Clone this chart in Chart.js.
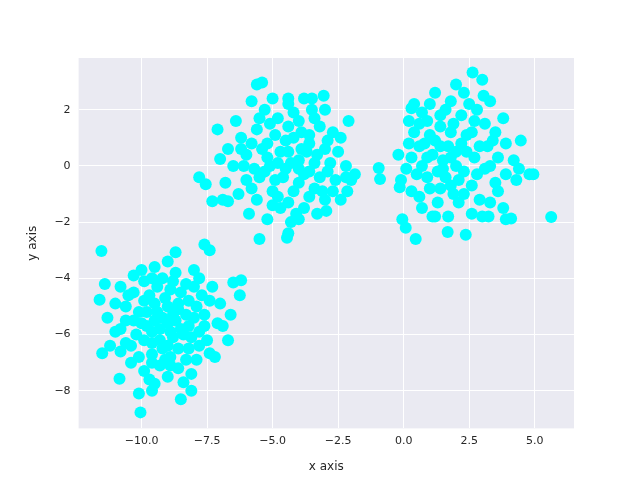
<!DOCTYPE html>
<html><head><meta charset="utf-8">
<script src="https://cdn.jsdelivr.net/npm/chart.js@4"></script>
<style>html,body{margin:0;padding:0;background:#fff}#w{width:639px;height:478px}</style>
</head><body><div id="w"><canvas id="c"></canvas></div>
<script>
const xTicks=[-10,-7.5,-5,-2.5,0,2.5,5];
const yTicks=[-8,-6,-4,-2,0,2];
const cluster1=[[-9,-5.6],[-9.4,-5.2],[-8.6,-5.1],[-8.8,-6.1],[-9.3,-6.2],[-9.8,-5.7],[-8.2,-5.7],[-9.1,-4.7],[-8.5,-4.5],[-9.7,-4.6],[-10.1,-5.2],[-10.2,-6.0],[-9.6,-6.7],[-8.9,-6.8],[-8.2,-6.5],[-7.8,-5.9],[-7.9,-5.0],[-8.3,-4.2],[-9.2,-4.0],[-9.9,-4.1],[-10.5,-4.6],[-10.6,-5.5],[-10.6,-6.3],[-10.1,-6.8],[-9.3,-7.1],[-8.6,-7.2],[-7.9,-6.9],[-7.5,-6.2],[-7.6,-5.3],[-7.7,-4.6],[-8.7,-3.8],[-9.5,-3.6],[-10.3,-3.9],[-11.0,-4.9],[-11.0,-5.9],[-10.8,-6.6],[-9.9,-7.3],[-9.0,-7.5],[-8.1,-7.4],[-7.2,-6.8],[-7.1,-5.6],[-7.3,-4.3],[-8.0,-3.7],[-9.0,-3.4],[-9.6,-5.9],[-8.4,-6.0],[-8.8,-5.3],[-9.5,-4.9],[-10.0,-5.6],[-8.0,-5.4],[-9.2,-6.5],[-8.6,-4.9],[-10.4,-7.0],[-11.3,-5.4],[-11.2,-6.4],[-7.0,-4.9],[-6.6,-5.3],[-10.8,-4.3],[-9.7,-7.6],[-8.4,-7.7],[-11.4,-4.2],
[-9.2,-5.4],[-8.9,-5.9],[-9.5,-5.5],[-8.7,-5.5],[-9.0,-5.0],[-9.3,-5.8],[-8.5,-5.8],[-9.8,-5.2],[-10.3,-5.5],[-9.9,-6.2],[-9.6,-6.3],[-9.0,-6.4],[-8.6,-6.5],[-8.1,-6.1],[-7.8,-6.4],[-8.3,-5.3],[-8.2,-4.8],[-8.9,-4.4],[-9.4,-4.3],[-9.9,-4.8],[-10.3,-4.5],[-10.4,-6.4],[-9.6,-7.0],[-8.3,-6.9],[-7.6,-5.7],[-7.4,-4.8],[-8.0,-4.3],[-8.8,-4.1],[-9.6,-4.0],[-10.6,-5.0],[-10.8,-5.8],[-9.1,-6.9],[-8.9,-7.1],[-7.8,-4.0],[-10.0,-3.7],
[-11.53,-3.03],[-11.6,-4.76],[-11.5,-6.67],[-10.84,-7.57],[-10.04,-8.77],[-10.1,-8.1],[-8.5,-8.3],[-8.1,-8.0],[-7.6,-2.8],[-7.4,-3.0],[-8.7,-3.07],[-6.2,-4.07],[-6.5,-4.15],[-6.25,-4.6],[-6.7,-6.2],[-6.9,-5.7],[-7.4,-6.67],[-9.6,-8.0],[-9.5,-7.75]];
const cluster2=[[-4.3,0.1],[-4.7,0.5],[-3.9,0.6],[-3.8,-0.3],[-4.6,-0.4],[-5.1,0.0],[-3.4,0.1],[-4.2,1.0],[-4.9,1.1],[-3.6,1.1],[-5.4,0.6],[-5.5,-0.4],[-5.0,-0.9],[-4.2,-0.9],[-3.4,-0.8],[-2.9,-0.2],[-3.0,0.6],[-3.2,1.4],[-4.0,1.6],[-4.8,1.7],[-5.6,1.3],[-6.0,0.4],[-6.0,-0.5],[-5.6,-1.2],[-4.7,-1.5],[-3.8,-1.5],[-3.0,-1.2],[-2.6,-0.5],[-2.5,0.5],[-2.7,1.2],[-3.5,2.0],[-4.4,2.2],[-5.3,2.0],[-6.2,1.0],[-6.5,0.0],[-6.3,-1.0],[-5.2,-1.9],[-4.3,-2.0],[-3.3,-1.7],[-2.4,-1.2],[-2.2,0.0],[-2.4,1.0],[-3.0,2.0],[-5.8,2.3],[-4.0,0.2],[-5.2,0.3],[-4.5,-0.1],[-3.7,0.5],[-4.9,-0.5],[-6.7,0.6],[-6.8,-0.6],[-5.9,-1.7],[-3.8,2.4],[-5.0,2.4],[-2.0,-0.5],[-4.4,-2.4],[-6.4,1.6],[-5.7,-0.1],
[-4.4,0.5],[-4.0,-0.1],[-4.8,0.1],[-3.6,-0.2],[-4.5,0.9],[-3.9,1.2],[-5.2,0.8],[-5.3,-0.2],[-4.8,-1.1],[-4.0,-0.6],[-3.2,-0.4],[-3.3,0.4],[-3.6,0.8],[-4.4,1.4],[-5.1,1.5],[-5.8,0.8],[-5.8,-0.8],[-4.4,-1.3],[-3.6,-1.1],[-2.8,0.1],[-2.9,0.9],[-3.4,1.7],[-4.2,1.9],[-5.0,-1.4],[-6.1,0.0],[-4.1,-1.7],[-2.7,-0.9],[-5.5,1.7],[-3.1,-0.9],
[-7.8,-0.4],[-7.55,-0.65],[-7.3,-1.26],[-5.6,2.9],[-5.4,2.97],[-7.1,1.3],[-7.0,0.25],[-6.7,-1.26],[-5.5,-2.6],[-4.45,-2.56],[-4.0,-1.9],[-2.95,-1.6],[-2.15,-0.9],[-2.1,1.6],[-3.05,2.5],[-3.5,2.4],[-4.4,2.4],[-6.2,0.6],[-6.9,-1.2],[-1.86,-0.3],[-2.2,-0.4]];
const cluster3=[[1.8,0.3],[1.4,0.7],[2.2,0.8],[2.3,-0.2],[1.3,-0.2],[0.9,0.3],[2.7,0.3],[1.8,1.2],[1.0,1.1],[2.6,1.2],[0.6,0.7],[0.5,-0.3],[1.0,-0.8],[1.8,-0.7],[2.6,-0.7],[3.1,-0.1],[3.2,0.7],[3.1,1.5],[2.2,1.8],[1.4,1.8],[0.6,1.5],[0.2,0.8],[0.1,-0.1],[0.3,-0.9],[1.3,-1.3],[2.1,-1.3],[2.9,-1.2],[3.5,-0.6],[3.6,0.3],[3.5,1.2],[2.8,2.0],[1.8,2.3],[1.0,2.2],[0.2,1.6],[-0.2,0.4],[-0.1,-0.5],[0.7,-1.5],[1.7,-1.8],[2.6,-1.7],[3.3,-1.3],[3.9,-0.3],[3.9,0.8],[3.8,1.7],[2.3,2.6],[1.5,0.2],[2.0,0.0],[1.1,0.4],[2.4,0.5],[1.6,-0.4],[3.3,2.3],[0.4,2.2],[4.2,0.2],[1.2,-1.8],[2.0,2.9],[4.4,-0.1],[3.0,-1.8],
[1.7,0.7],[2.0,0.5],[1.5,-0.1],[2.1,-0.5],[1.2,0.9],[2.4,1.1],[1.9,1.5],[1.4,1.4],[0.8,0.8],[0.7,0.0],[0.9,-0.4],[1.4,-0.8],[2.3,-1.0],[2.8,-0.3],[2.9,0.7],[2.7,1.6],[1.6,2.0],[0.9,1.6],[0.4,1.2],[0.3,0.3],[0.6,-1.1],[1.9,-1.0],[3.3,0.0],[3.4,0.9],[2.5,2.2],[1.2,2.6],[0.7,1.9],[3.6,-0.9],
[2.63,3.32],[3.0,3.07],[3.05,2.5],[0.3,2.05],[-0.95,-0.07],[-0.9,-0.47],[-0.15,-0.76],[-0.05,-1.9],[0.08,-2.2],[0.46,-2.6],[1.68,-2.35],[2.37,-2.45],[3.24,-1.8],[3.9,-1.9],[4.1,-1.87],[4.47,0.9],[4.8,-0.3],[4.95,-0.3],[5.63,-1.82],[4.3,-0.5],[3.8,-1.5],[1.1,-1.8]];
const allPts=cluster1.concat(cluster2,cluster3).map(p=>({x:p[0],y:p[1]}));
const bg={id:'bg',beforeDraw(c){const a=c.chartArea,x=c.ctx;x.save();x.fillStyle='#EAEAF2';x.fillRect(a.left,a.top,a.right-a.left,a.bottom-a.top);x.restore();}};
const font={family:'DejaVu Sans',size:11};
new Chart(document.getElementById('c'),{type:'scatter',
data:{datasets:[{data:allPts,backgroundColor:'#00FFFF',borderWidth:0,pointRadius:6,pointHoverRadius:6}]},
options:{responsive:true,maintainAspectRatio:false,animation:false,
layout:{padding:{left:22,right:65,top:58,bottom:4}},
plugins:{legend:{display:false},tooltip:{enabled:false}},
scales:{
x:{type:'linear',min:-12.4,max:6.5,afterBuildTicks(a){a.ticks=xTicks.map(v=>({value:v}));},
 ticks:{color:'#262626',font,padding:6,callback:v=>v.toFixed(1).replace('-','\u2212')},
 grid:{color:'#fff',lineWidth:1,drawTicks:false},border:{display:false},
 title:{display:true,text:'x axis',color:'#262626',font:{family:'DejaVu Sans',size:12},padding:{top:6,bottom:0}}},
y:{type:'linear',min:-9.34,max:3.84,afterBuildTicks(a){a.ticks=yTicks.map(v=>({value:v}));},
 ticks:{color:'#262626',font,padding:8,callback:v=>String(v).replace('-','\u2212')},
 grid:{color:'#fff',lineWidth:1,drawTicks:false},border:{display:false},
 title:{display:true,text:'y axis',color:'#262626',font:{family:'DejaVu Sans',size:12},padding:{bottom:6}}}}},
plugins:[bg]});
</script></body></html>
